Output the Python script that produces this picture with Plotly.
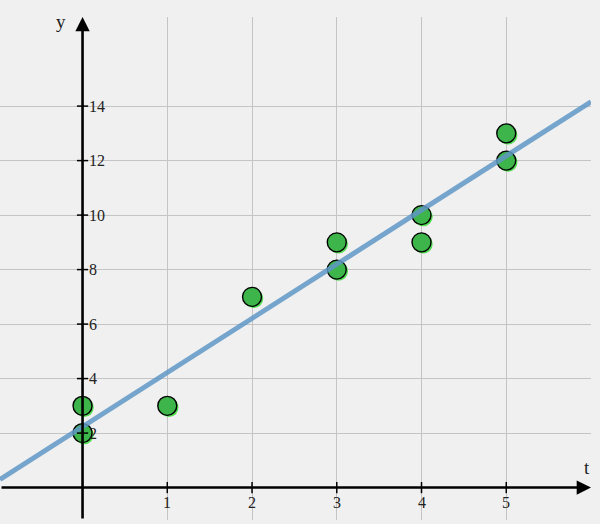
import numpy as np
import plotly.graph_objects as go

# observed points
t_vals = [0, 0, 1, 2, 3, 3, 4, 4, 5, 5]
y_vals = [3, 2, 3, 7, 9, 8, 10, 9, 13, 12]

# tick labels on the axes
x_ticks = [1, 2, 3, 4, 5]
y_ticks = [2, 4, 6, 8, 10, 12, 14]

X_RANGE = [-0.974, 6.0]
Y_RANGE = [-1.19, 17.27]

# least squares line through the points
slope, intercept = np.polyfit(t_vals, y_vals, 1)
line_t = np.array(X_RANGE)
line_y = intercept + slope * line_t

fig = go.Figure()

# little shadow under each dot
fig.add_trace(go.Scatter(
    x=[t + 0.02 for t in t_vals], y=[v - 0.06 for v in y_vals],
    mode="markers", hoverinfo="skip",
    marker=dict(size=19, color="#55dd55", line=dict(width=0)),
))
fig.add_trace(go.Scatter(
    x=t_vals, y=y_vals, mode="markers",
    marker=dict(size=19, color="#3db54a", line=dict(width=1.4, color="black")),
))

# regression line drawn over the dots
fig.add_trace(go.Scatter(
    x=line_t, y=line_y, mode="lines",
    line=dict(color="rgba(95,150,198,0.85)", width=5),
))

# tick marks crossing the axes
fig.add_trace(go.Scatter(
    x=x_ticks, y=[0] * len(x_ticks), mode="markers", hoverinfo="skip",
    marker=dict(symbol="line-ns", size=8, line=dict(width=1.5, color="black")),
))
fig.add_trace(go.Scatter(
    x=[0] * len(y_ticks), y=y_ticks, mode="markers", hoverinfo="skip",
    marker=dict(symbol="line-ew", size=8, line=dict(width=1.5, color="black")),
))

font = dict(family="Liberation Serif", size=16, color="#222")
big_font = dict(family="Liberation Serif", size=19, color="#222")
annotations = []
for t in x_ticks:
    annotations.append(dict(x=t, y=0, text=str(t), showarrow=False,
                            yshift=-15, font=font))
for v in y_ticks:
    annotations.append(dict(x=0, y=v, text=str(v), showarrow=False,
                            xanchor="left", xshift=4, font=font))

# axes with arrow heads
annotations.append(dict(x=X_RANGE[1], y=0, ax=X_RANGE[0], ay=0,
                        xref="x", yref="y", axref="x", ayref="y",
                        showarrow=True, arrowhead=2, arrowsize=1.1,
                        arrowwidth=2.6, arrowcolor="black", text=""))
annotations.append(dict(x=0, y=Y_RANGE[1], ax=0, ay=Y_RANGE[0],
                        xref="x", yref="y", axref="x", ayref="y",
                        showarrow=True, arrowhead=2, arrowsize=1.1,
                        arrowwidth=2.6, arrowcolor="black", text=""))
annotations.append(dict(x=6.0, y=0, text="t", showarrow=False, xshift=-4,
                        yshift=20, font=big_font))
annotations.append(dict(x=0, y=Y_RANGE[1], text="y", showarrow=False, xshift=-22,
                        yshift=-4, font=big_font))

fig.update_layout(
    width=600, height=524,
    margin=dict(l=0, r=9, t=17, b=4),
    paper_bgcolor="#f0f0f0", plot_bgcolor="#f0f0f0",
    showlegend=False,
    annotations=annotations,
    xaxis=dict(range=X_RANGE, tickvals=x_ticks, showticklabels=False,
               showgrid=True, gridcolor="#c4c4c4", gridwidth=1,
               zeroline=False, showline=False),
    yaxis=dict(range=Y_RANGE, tickvals=y_ticks, showticklabels=False,
               showgrid=True, gridcolor="#c4c4c4", gridwidth=1,
               zeroline=False, showline=False),
)

# drop the page margin so the chart sits at the window corner
fig.write_html("out.html", config={"displayModeBar": False},
               post_script="document.body.style.margin='0';")
